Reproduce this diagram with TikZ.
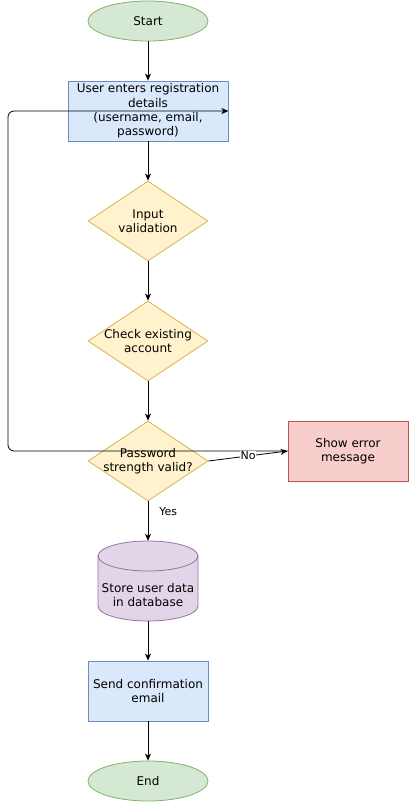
\documentclass[tikz,border=0pt]{standalone}
\usepackage{fontspec}
\setmainfont{DejaVu Sans}
\usetikzlibrary{shapes.geometric,arrows.meta}
\definecolor{gfill}{HTML}{D5E8D4}\definecolor{gdraw}{HTML}{82B366}
\definecolor{bfill}{HTML}{DAE8FC}\definecolor{bdraw}{HTML}{6C8EBF}
\definecolor{yfill}{HTML}{FFF2CC}\definecolor{ydraw}{HTML}{D6B656}
\definecolor{rfill}{HTML}{F8CECC}\definecolor{rdraw}{HTML}{B85450}
\definecolor{pfill}{HTML}{E1D5E7}\definecolor{pdraw}{HTML}{9673A6}
\begin{document}
\begin{tikzpicture}[x=1pt,y=-1pt,
  every node/.style={font=\fontsize{12}{14.4}\selectfont, inner sep=0pt, align=center},
  term/.style={ellipse, draw=gdraw, fill=gfill, line width=0.8pt, minimum width=120pt, minimum height=40pt},
  procbox/.style={rectangle, draw=bdraw, fill=bfill, line width=0.8pt, minimum width=#1, minimum height=60pt},
  decide/.style={diamond, draw=ydraw, fill=yfill, line width=0.8pt, minimum width=120pt, minimum height=80pt},
  errbox/.style={rectangle, draw=rdraw, fill=rfill, line width=0.8pt, minimum width=120pt, minimum height=60pt},
  conn/.style={line width=0.8pt, -{Stealth[length=7pt,width=6pt,inset=2pt]}},
  lbl/.style={font=\fontsize{11}{13}\selectfont}
]
\useasboundingbox (0,0) rectangle (411,804);
\node[term] (start) at (148,21) {Start};
\node[procbox=160pt] (user) at (148,111) {User enters registration\\details\\(username, email,\\password)};
\node[decide] (d1) at (148,221) {};
\node at (d1) {Input\\validation};
\node[decide] (d2) at (148,341) {};
\node at (d2) {Check existing\\account};
\node[decide] (d3) at (148,461) {};
\node at (d3) {Password\\strength valid?};
\node[errbox] (err) at (348,451) {Show error\\message};
% cylinder
\node[minimum width=100pt, minimum height=80pt] (db) at (148,581) {};
\begin{scope}[shift={(148,581)}, y=1pt]
  \draw[draw=pdraw, fill=pfill, line width=0.8pt]
    (-50,25) -- (-50,-25) arc[start angle=180, end angle=360, x radius=50, y radius=15]
    -- (50,25) arc[start angle=0, end angle=180, x radius=50, y radius=15] -- cycle;
  \draw[draw=pdraw, line width=0.8pt] (-50,25) arc[start angle=180, end angle=360, x radius=50, y radius=15];
\end{scope}
\node at (148,595) {Store user data\\in database};
\node[procbox=120pt] (send) at (148,691) {Send confirmation\\email};
\node[term] (end) at (148,781) {End};
% connectors
\draw[conn] (start) -- (user);
\draw[conn] (user) -- (d1);
\draw[conn] (d1) -- (d2);
\draw[conn] (d2) -- (d3);
\draw[conn] (d3) -- (db.north) node[pos=0.25, right=11pt, lbl] {Yes};
\draw[conn] (db) -- (send);
\draw[conn] (send) -- (end);
\coordinate (lb) at (8,451);
\coordinate (lt) at (8,111);
\draw[conn, rounded corners=6pt] (err.west) -- (lb) -- (lt) -- (user.east);
\draw[conn] (d3.east) -- (err.west) node[midway, fill=white, inner sep=0.5pt, lbl] {No};
\end{tikzpicture}
\end{document}
